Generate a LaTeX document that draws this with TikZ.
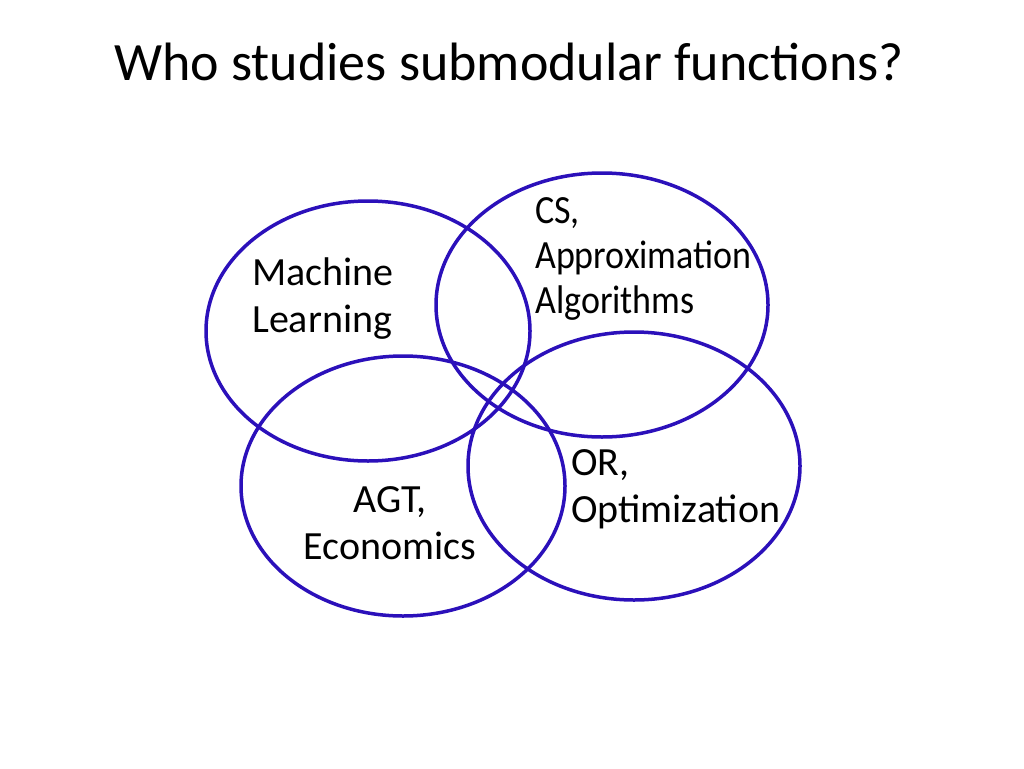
\documentclass[tikz,border=0pt]{standalone}
\usepackage{fontspec}
\setmainfont{Carlito}
\tikzset{
  field/.style={draw=venn, line width=3.5pt},
  lbl/.style={font=\fontsize{40}{47}\selectfont, align=left, inner sep=0pt}
}
\definecolor{venn}{HTML}{2B10BA}
\begin{document}
\begin{tikzpicture}[x=1pt,y=-1pt]
  \useasboundingbox (0,0) rectangle (1024,768);
  \node (title) at (509,62) {\fontsize{54}{60}\selectfont Who studies submodular functions?};
  % circles
  \draw[field] (368,331) ellipse [x radius=162, y radius=130];
  \draw[field] (602,305) ellipse [x radius=166, y radius=132];
  \draw[field] (403,486) ellipse [x radius=162, y radius=130];
  \draw[field] (634,466) ellipse [x radius=166, y radius=134];
  % labels
  \node[lbl, anchor=north west] (ml) at (252,258) {Machine\\Learning};
  \node[lbl, anchor=north west, font=\fontsize{40}{45}\selectfont\addfontfeature{FakeStretch=0.9}] (cs) at (535,197) {CS,\\Approximation\\Algorithms};
  \node[lbl, anchor=north, align=center] (agt) at (390,486) {AGT,\\Economics};
  \node[lbl, anchor=north west] (or) at (571,449) {OR,\\Optimization};
\end{tikzpicture}
\end{document}
